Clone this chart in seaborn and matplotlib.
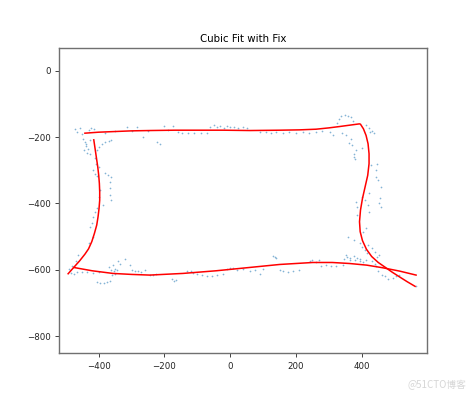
import numpy as np
import pandas as pd
import seaborn as sns
import matplotlib
matplotlib.use('Agg')
import matplotlib.pyplot as plt

# --- 1. DATOS ---
# puntos detectados, por lado del rectangulo
top_x = [-473, -465, -458, -450, -423, -430, -415, -380, -350, -315, -300, -284, -266, -250,
         -224, -215, -200, -190, -175, -160, -148, -130, -110, -90, -72, -63, -50, -40, -30,
         -20, -10, 0, 10, 25, 40, 50, 90, 110, 125, 140, 160, 180, 200, 220, 240, 262, 280,
         302, 311, 326, 330, 338, 348, 358, 366, 373, 341, 353, 414, 422, 430, 438, 425]
top_y = [-175, -185, -172, -190, -172, -178, -176, -188, -182, -169, -180, -169, -199, -182,
         -214, -220, -166, -178, -166, -183, -187, -186, -187, -186, -187, -168, -163, -170, -165,
         -172, -166, -170, -168, -171, -169, -172, -185, -184, -186, -183, -186, -184, -187, -183, -186, -185, -180,
         -184, -193, -157, -145, -136, -133, -135, -140, -150, -187, -193, -163, -172, -180, -187, -185]

left_x = [-448, -442, -440, -445, -435, -428, -432, -438, -425, -405, -398, -390, -380, -370, -362,
          -412, -408, -418, -412, -405, -398, -380, -372, -362, -365, -366, -366, -364,
          -395, -400, -388, -405, -412, -418, -421, -425, -418, -430, -462, -470]
left_y = [-205, -215, -228, -240, -247, -250, -235, -222, -210, -240, -230, -222, -216, -212, -210,
          -262, -280, -300, -312, -318, -290, -308, -315, -320, -335, -352, -375, -390,
          -360, -380, -405, -415, -425, -440, -460, -470, -500, -520, -555, -575]

bottom_x = [-480, -490, -485, -475, -465, -450, -435, -418, -400,
            -406, -395, -385, -375, -366, -368, -362, -358, -355, -350, -360, -352, -345,
            -342, -335, -320, -306, -300, -290, -280, -270, -260, -245, -236, -225,
            -178, -172, -165, -133, -120, -114, -100, -85, -70, -55, -40, -23, -11, 0, 7,
            20, 40, 60, 75, 89, 100, 130, 135, 140, 150, 160, 175, 190, 210,
            241, 250, 260, 271, 276, 290, 305, 320, 342, 347, 355, 365, 375, 385, 393,
            444, 450, 460, 470, 480, 495, 505, 514, 565]
bottom_y = [-590, -598, -610, -612, -607, -607, -606, -609, -607,
            -638, -640, -639, -637, -635, -592, -600, -586, -605, -612, -615, -597, -600,
            -575, -582, -568, -586, -600, -603, -605, -607, -602, -616, -615, -614,
            -628, -635, -630, -604, -605, -611, -614, -616, -618, -620, -615, -612, -597, -594, -596,
            -600, -598, -605, -602, -612, -598, -557, -560, -565, -602, -605, -608, -605, -600,
            -575, -570, -578, -572, -588, -587, -590, -588, -586, -567, -560, -572, -558, -565, -575,
            -590, -605, -615, -620, -628, -625, -620, -615, -650]

right_x = [362, 370, 383, 402, 377, 429, 368, 375, 380, 443, 443, 445, 450, 458,
           423, 452, 458, 456, 383, 385, 386, 419, 422, 400, 410,
           414, 405, 357, 377, 393, 400, 410, 420, 430, 440, 453, 445, 415,
           353, 365, 380, 395, 405, 414, 430, 440]
right_y = [-218, -225, -239, -233, -259, -284, -207, -250, -265, -299, -320, -280, -330, -350,
           -369, -400, -411, -385, -396, -410, -435, -405, -426, -380, -390,
           -474, -487, -501, -511, -520, -530, -540, -525, -535, -545, -556, -560, -548,
           -556, -565, -572, -568, -577, -570, -575, -583]

# curvas cubicas ajustadas (puntos leidos sobre la linea roja)
fit_top_x = [-442, -400, -350, -300, -245, -170, -100, -20, 59, 150, 210, 261, 300, 332, 362, 392]
fit_top_y = [-188, -185, -183, -181, -180, -179, -179, -179, -180, -179, -178, -176, -172, -168, -164, -160]

fit_left_x = [-415, -411, -407, -403, -400, -398, -397, -397, -399, -402, -406, -413, -421, -431, -442, -458, -476, -493]
fit_left_y = [-208, -235, -262, -289, -315, -340, -365, -390, -415, -440, -465, -490, -515, -537, -553, -573, -593, -612]

fit_bottom_x = [-476, -420, -357, -300, -245, -144, -43, 59, 150, 251, 310, 362, 415, 464, 515, 565]
fit_bottom_y = [-593, -603, -611, -614, -616, -611, -603, -593, -584, -578, -578, -581, -586, -594, -604, -616]

fit_right_x = [396, 405, 413, 419, 422, 422, 418, 410, 402, 396, 393, 395, 402, 414, 430, 450, 469, 492, 514, 538, 562]
fit_right_y = [-161, -175, -195, -220, -250, -280, -315, -350, -385, -420, -455, -485, -512, -538, -560, -578, -591, -607, -621, -636, -650]

# --- 2. GRAFICO ---
points = pd.DataFrame({
    'x': top_x + left_x + bottom_x + right_x,
    'y': top_y + left_y + bottom_y + right_y,
})

fig, ax = plt.subplots(figsize=(4.74, 3.97), dpi=100)
fig.subplots_adjust(left=0.125, right=0.9, bottom=0.11, top=0.88)

sns.scatterplot(data=points, x='x', y='y', s=1.5, color='#1f77b4', alpha=0.55,
                linewidth=0, ax=ax)

for fx, fy in [(fit_top_x, fit_top_y), (fit_left_x, fit_left_y),
               (fit_bottom_x, fit_bottom_y), (fit_right_x, fit_right_y)]:
    sns.lineplot(x=fx, y=fy, sort=False, estimator=None, color='red', linewidth=1.1, ax=ax)

ax.set_xlim(-520, 597)
ax.set_ylim(-852, 70)
ax.set_xticks([-400, -200, 0, 200, 400])
ax.set_yticks([-800, -600, -400, -200, 0])
ax.set_xlabel('')
ax.set_ylabel('')
ax.tick_params(labelsize=6.2, length=2.6, width=0.6, colors='#222222')
for sp in ax.spines.values():
    sp.set_color('#707070')
    sp.set_linewidth(1.0)

ax.set_title('Cubic Fit with Fix', fontsize=7.4, pad=4)

# marca de agua
fig.text(0.922, 0.03, '@51CTO博客', fontsize=7, color='#d6d6d6', ha='center', va='center',
         family=['Noto Sans CJK SC', 'DejaVu Sans'])

# --- 3. GUARDAR ---
plt.savefig('out.png', dpi=100)
